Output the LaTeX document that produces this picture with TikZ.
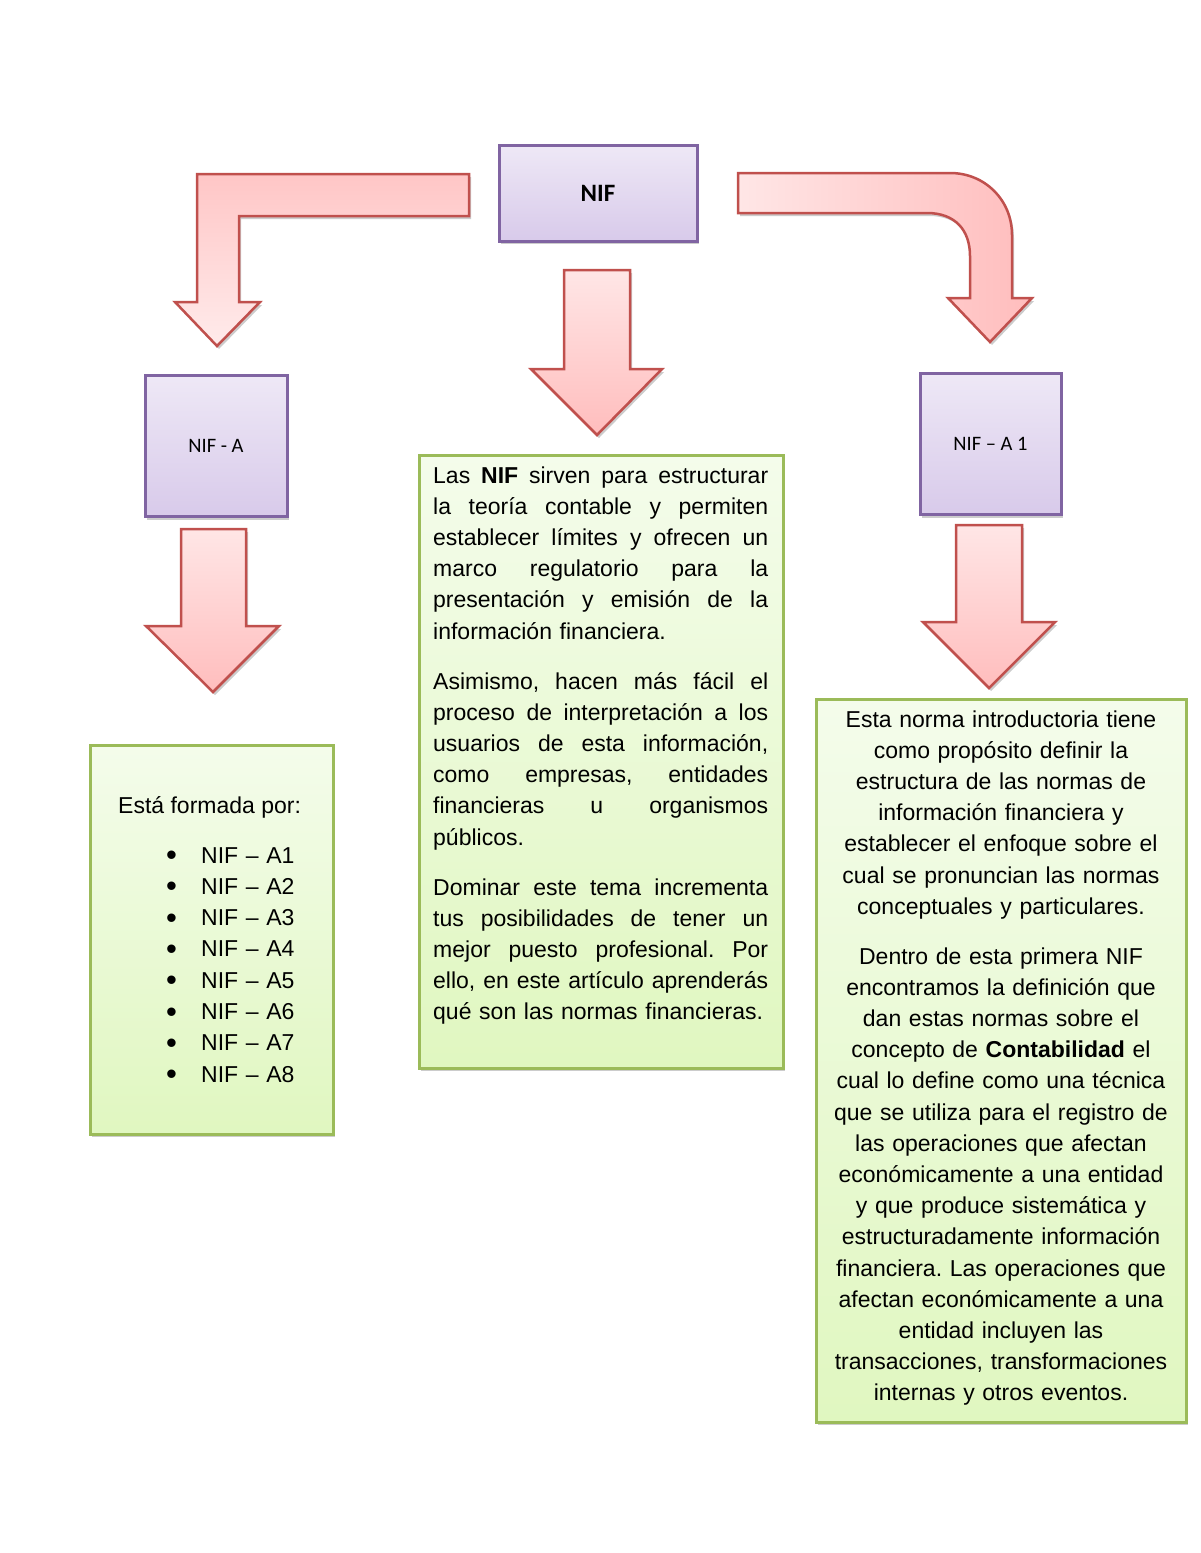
\documentclass[tikz,border=0pt]{standalone}
\usepackage{fontspec}
\setmainfont{Liberation Sans}
\newfontfamily\calibfont{Carlito}
\usetikzlibrary{shadows}
\definecolor{arrowred}{HTML}{C0504D}
\definecolor{arrowlight}{HTML}{FFE6E6}
\definecolor{arrowdark}{HTML}{FFBDBD}
\definecolor{arrowmid}{HTML}{FFC6C6}
\definecolor{purpleb}{HTML}{8064A2}
\definecolor{purpletop}{HTML}{EEE8F6}
\definecolor{purplebot}{HTML}{D8CAEA}
\definecolor{greenb}{HTML}{9BBB59}
\definecolor{greentop}{HTML}{F4FCEB}
\definecolor{greenbot}{HTML}{E0F7C0}
\newcommand\jl[1]{\leavevmode\hbox to 335pt{\spaceskip=0.278em plus 3em minus 0.05em\xspaceskip=\spaceskip #1}}
\newcommand\bul{\makebox[35pt][l]{\raisebox{-2.5pt}{\fontsize{31}{31}\selectfont •}}}
\frenchspacing
\begin{document}
\begin{tikzpicture}[x=1pt,y=-1pt,
 shd/.style={drop shadow={shadow xshift=2pt,shadow yshift=-3pt,fill=black!50,opacity=0.4}},
 blockarrow/.style={shd, draw=arrowred, line width=2.5pt, line join=miter},
 purplebox/.style={shd, draw=purpleb, line width=3pt, top color=purpletop, bottom color=purplebot, inner sep=0pt},
 greenbox/.style={shd, draw=greenb, line width=3pt, top color=greentop, bottom color=greenbot, inner sep=0pt},
 bodytext/.style={font=\fontsize{23}{31.2}\selectfont\frenchspacing, inner sep=0pt, align=left},
 labeltext/.style={font=\calibfont\fontsize{20.5}{24}\selectfont}
]
\fill[white] (0,0) rectangle (1200,1553);
\useasboundingbox (0,0) rectangle (1200,1553);

% ---- block arrows ----
% left bent arrow (NIF -> NIF - A)
\path[blockarrow, top color=arrowmid, bottom color=arrowlight!80!white]
  (469,174) -- (197,174) -- (197,302) -- (175,302) -- (217,346) -- (260,302)
  -- (239,302) -- (239,216) -- (469,216) -- cycle;
% middle arrow
\path[blockarrow, top color=arrowlight, bottom color=arrowdark]
  (564,270) -- (630,270) -- (630,369) -- (662,369) -- (597,435) -- (531,369)
  -- (564,369) -- cycle;
% right bent arrow (NIF -> NIF - A 1)
\path[blockarrow, left color=arrowlight, right color=arrowdark]
  (738,173) -- (950,173) .. controls (985,173) and (1012,200) .. (1012,235)
  -- (1012,298) -- (1032,298) -- (990,342) -- (948,298) -- (970,298)
  -- (970,256) .. controls (970,230) and (955,213) .. (927,213)
  -- (738,213) -- cycle;
% arrow below NIF - A
\path[blockarrow, top color=arrowlight, bottom color=arrowdark]
  (181,529) -- (246,529) -- (246,626) -- (279,626) -- (213,692) -- (146,626)
  -- (181,626) -- cycle;
% arrow below NIF - A 1
\path[blockarrow, top color=arrowlight, bottom color=arrowdark]
  (956,525) -- (1022,525) -- (1022,622) -- (1055,622) -- (989,688) -- (923,622)
  -- (956,622) -- cycle;

% ---- purple boxes ----
\node[purplebox, minimum width=198pt, minimum height=96pt,
      font=\calibfont\bfseries\fontsize{25}{30}\selectfont] (nif) at (598,193) {NIF};
\node[purplebox, labeltext, minimum width=142pt, minimum height=141pt] (nifa) at (216,446) {NIF - A};
\node[purplebox, labeltext, minimum width=141pt, minimum height=141pt] (nifa1) at (990.5,444) {NIF – A 1};

% ---- green boxes ----
\node[greenbox, minimum width=243pt, minimum height=389pt] (leftbox) at (211.5,939.5) {};
\node[greenbox, minimum width=364pt, minimum height=613pt] (midbox) at (601,761.5) {};
\node[greenbox, minimum width=370pt, minimum height=723pt] (rightbox) at (1001,1060.5) {};

% ---- texts ----
\node[bodytext, anchor=base west] (leftintro) at (118,813) {Está formada por:};
\node[bodytext, font=\fontsize{23}{31.3}\selectfont, anchor=base west, text width=150pt] (leftlist) at (166,863)
{\bul NIF – A1\\
 \bul NIF – A2\\
 \bul NIF – A3\\
 \bul NIF – A4\\
 \bul NIF – A5\\
 \bul NIF – A6\\
 \bul NIF – A7\\
 \bul NIF – A8};

\node[bodytext, text width=335pt, anchor=base west] (midtext) at (433,483)
{\jl{Las \textbf{NIF} sirven para estructurar}\\
 \jl{la teoría contable y permiten}\\
 \jl{establecer límites y ofrecen un}\\
 \jl{marco regulatorio para la}\\
 \jl{presentación y emisión de la}\\
 información financiera.\\[18.8pt]
 \jl{Asimismo, hacen más fácil el}\\
 \jl{proceso de interpretación a los}\\
 \jl{usuarios de esta información,}\\
 \jl{como empresas, entidades}\\
 \jl{financieras u organismos}\\
 públicos.\\[18.8pt]
 \jl{Dominar este tema incrementa}\\
 \jl{tus posibilidades de tener un}\\
 \jl{mejor puesto profesional. Por}\\
 \jl{ello, en este artículo aprenderás}\\
 qué son las normas financieras.};

\node[bodytext, text width=368pt, align=center, anchor=base] (righttext) at (1001,727)
{Esta norma introductoria tiene\\
 como propósito definir la\\
 estructura de las normas de\\
 información financiera y\\
 establecer el enfoque sobre el\\
 cual se pronuncian las normas\\
 conceptuales y particulares.\\[18.6pt]
 Dentro de esta primera NIF\\
 encontramos la definición que\\
 dan estas normas sobre el\\
 concepto de \textbf{Contabilidad} el\\
 cual lo define como una técnica\\
 que se utiliza para el registro de\\
 las operaciones que afectan\\
 económicamente a una entidad\\
 y que produce sistemática y\\
 estructuradamente información\\
 financiera. Las operaciones que\\
 afectan económicamente a una\\
 entidad incluyen las\\
 transacciones, transformaciones\\
 internas y otros eventos.};
\end{tikzpicture}
\end{document}
